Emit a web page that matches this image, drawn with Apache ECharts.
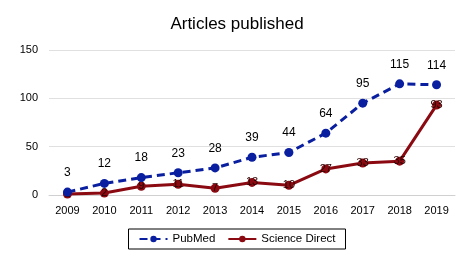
<!DOCTYPE html>
<html>
<head>
    <meta charset="utf-8">
    <script src="https://cdn.jsdelivr.net/npm/echarts@6/dist/echarts.min.js"></script>
    <style>
        html, body { margin: 0; padding: 0; background: #fff; }
        #chart { width: 474px; height: 263px; }
    </style>
</head>
<body>
    <div id="chart"></div>
<script type="text/javascript">
    var years = ['2009', '2010', '2011', '2012', '2013', '2014', '2015', '2016', '2017', '2018', '2019'];
    var pubmed = [3, 12, 18, 23, 28, 39, 44, 64, 95, 115, 114];
    var scienceDirect = [1, 2, 9, 11, 7, 13, 10, 27, 33, 35, 93];

    var chart = echarts.init(document.getElementById('chart'));

    var option = {
        backgroundColor: '#fff',
        textStyle: { fontFamily: 'Liberation Sans' },
        title: {
            text: 'Articles published',
            left: 'center',
            top: 11,
            textStyle: { fontSize: 17, fontWeight: 'normal', color: '#000' }
        },
        legend: {
            bottom: 14,
            left: 'center',
            itemWidth: 28,
            itemHeight: 8,
            itemGap: 12,
            padding: [4, 10],
            borderColor: '#000',
            borderWidth: 1,
            textStyle: { fontSize: 11.5, color: '#000' },
            data: ['PubMed', 'Science Direct']
        },
        grid: { left: 49, right: 19, top: 50, bottom: 68 },
        xAxis: {
            type: 'category',
            data: years,
            axisLine: { lineStyle: { color: '#d0d0d0' } },
            axisTick: { show: false },
            axisLabel: { color: '#000', fontSize: 11, margin: 10 }
        },
        yAxis: {
            type: 'value',
            min: 0,
            max: 150,
            interval: 50,
            axisLabel: { color: '#000', fontSize: 11, margin: 11 },
            splitLine: { lineStyle: { color: '#e0e0e0' } }
        },
        series: [
            {
                name: 'PubMed',
                type: 'line',
                data: pubmed,
                color: '#0a1fa0',
                symbol: 'circle',
                symbolSize: 9,
                lineStyle: { width: 3, type: [8, 5] },
                label: { show: true, position: 'top', distance: 9, color: '#000', fontSize: 12 },
                z: 3
            },
            {
                name: 'Science Direct',
                type: 'line',
                data: scienceDirect,
                color: '#8b0a12',
                symbol: 'circle',
                symbolSize: 9,
                lineStyle: { width: 3 },
                label: { show: true, position: 'inside', color: '#2a0000', fontSize: 11 },
                z: 2
            }
        ]
    };

    chart.setOption(option);
</script>
</body>
</html>
